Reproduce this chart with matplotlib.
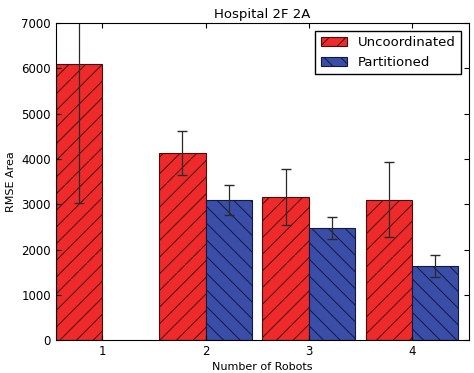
import numpy as np
import matplotlib.pyplot as plt

robots = [1, 2, 3, 4]
uncoord = [6100, 4130, 3160, 3100]
uncoord_err = [3070, 490, 615, 830]
# no partitioned result for a single robot
part = [0, 3100, 2480, 1640]
part_err = [0, 330, 250, 240]

plt.rcParams['hatch.linewidth'] = 0.7

fig = plt.figure(figsize=(4.74, 3.73), dpi=100)
ax = fig.add_axes([0.118, 0.088, 0.871, 0.85])

x = np.array(robots)
w = 0.45
ax.bar(x - w/2, uncoord, w, color='#ee2a2a', edgecolor='#4a0c0c', linewidth=0.8,
       hatch='//', label='Uncoordinated')
ax.errorbar(x - w/2, uncoord, yerr=uncoord_err, fmt='none', ecolor='#2a2a2a',
            elinewidth=0.9, capsize=3.5)
ax.bar(x[1:] + w/2, part[1:], w, color='#3a4ea8', edgecolor='#121840', linewidth=0.8,
       hatch='\\\\', label='Partitioned')
ax.errorbar(x[1:] + w/2, part[1:], yerr=part_err[1:], fmt='none', ecolor='#2a2a2a',
            elinewidth=0.9, capsize=3.5)

ax.set_xlim(0.55, 4.55)
ax.set_ylim(0, 7000)
ax.set_xticks(robots)
ax.set_yticks(range(0, 7001, 1000))
ax.tick_params(direction='in', top=True, right=True, labelsize=8.5)
ax.set_xlabel('Number of Robots', fontsize=8, labelpad=3)
ax.set_ylabel('RMSE Area', fontsize=8)
ax.set_title('Hospital 2F 2A', fontsize=9.5, pad=4)
ax.legend(loc='upper right', fontsize=9.5, fancybox=False, edgecolor='black',
          framealpha=1, handlelength=2.0, borderaxespad=0.6)

fig.savefig('out.png', dpi=100)
